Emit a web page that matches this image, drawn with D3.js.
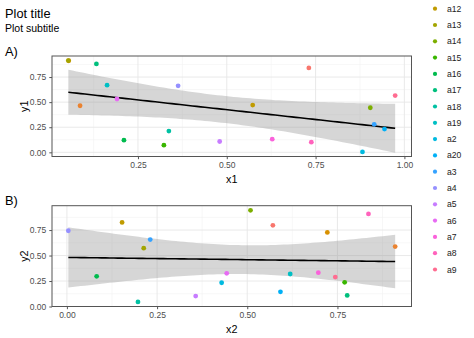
<!DOCTYPE html>
<html><head><meta charset="utf-8">
<script src="https://cdn.jsdelivr.net/npm/d3@7"></script>
<style>body{margin:0;background:#fff}svg{display:block;font-family:"Liberation Sans",Arial,sans-serif}</style>
</head><body><svg id="c" width="474" height="338"></svg>
<script>
// ---- data ----
const ids = ["a1","a2","a3","a4","a5","a6","a7","a8","a9","a10","a11","a12","a13","a14","a15","a16","a17","a18","a19","a20"];
const x1 = [0.731,0.882,0.915,0.363,0.480,0.191,0.628,0.738,0.974,0.087,0.055,0.573,0.054,0.904,0.323,0.2105,0.133,0.337,0.163,0.944];
const y1 = [0.841,0.004,0.279,0.662,0.108,0.531,0.131,0.101,0.565,0.464,0.912,0.471,0.914,0.444,0.071,0.121,0.881,0.212,0.669,0.232];
const x2 = [0.571,0.429,0.231,0.004,0.357,0.443,0.697,0.836,0.744,0.910,0.722,0.153,0.213,0.509,0.770,0.0825,0.777,0.197,0.619,0.592];
const y2 = [0.796,0.233,0.657,0.743,0.102,0.326,0.332,0.908,0.289,0.588,0.727,0.825,0.572,0.944,0.237,0.296,0.109,0.045,0.319,0.144];
const xTicks1 = [0.25,0.50,0.75,1.00];
const xTicks2 = [0.00,0.25,0.50,0.75];
const yTicks = [0.00,0.25,0.50,0.75];
const titleText = "Plot title", subtitleText = "Plot subtitle";
const palette = ["#F8766D","#EA8331","#D89000","#C09B00","#A3A500","#7CAE00","#39B600","#00BB4E","#00BF7D","#00C1A3","#00BFC4","#00BAE0","#00B0F6","#35A2FF","#9590FF","#C77CFF","#E76BF3","#FA62DB","#FF62BC","#FF6C91"];
const T_CRIT = 2.100922; // 95% t quantile, df = 18

const svg = d3.select("#c");
const levels = ids.slice().sort(); // a1,a10,a11,...
const hue = d3.scaleOrdinal().domain(levels).range(palette);

svg.append("text").attr("x",5).attr("y",18).attr("font-size",12.8).attr("fill","#000").text(titleText);
svg.append("text").attr("x",5).attr("y",32).attr("font-size",10.5).attr("fill","#000").text(subtitleText);

function expand(arr){const [a,b]=d3.extent(arr);const r=b-a;return [a-0.05*r,b+0.05*r];}

function panel(opts){
  const {xs,ys,top,bottom,left,right,xTicks,tag,xLab,yLab,tagY} = opts;
  const g = svg.append("g");
  const x = d3.scaleLinear().domain(expand(xs)).range([left,right]);
  const y = d3.scaleLinear().domain(expand(ys)).range([bottom,top]);
  const xd=x.domain(), yd=y.domain();
  const minor = (ticks,dom)=>{const out=[];const s=ticks[1]-ticks[0];for(let v=ticks[0]-s/2;v<=dom[1];v+=s){if(v>=dom[0])out.push(v);}return out;};
  g.selectAll(".mx").data(minor(xTicks,xd)).join("line").attr("x1",d=>x(d)).attr("x2",d=>x(d)).attr("y1",top).attr("y2",bottom).attr("stroke","#f2f2f2").attr("stroke-width",0.6);
  g.selectAll(".my").data(minor(yTicks,yd)).join("line").attr("y1",d=>y(d)).attr("y2",d=>y(d)).attr("x1",left).attr("x2",right).attr("stroke","#f2f2f2").attr("stroke-width",0.6);
  g.selectAll(".gx").data(xTicks).join("line").attr("x1",d=>x(d)).attr("x2",d=>x(d)).attr("y1",top).attr("y2",bottom).attr("stroke","#e6e6e6").attr("stroke-width",0.9);
  g.selectAll(".gy").data(yTicks).join("line").attr("y1",d=>y(d)).attr("y2",d=>y(d)).attr("x1",left).attr("x2",right).attr("stroke","#e6e6e6").attr("stroke-width",0.9);
  // regression with 95% CI
  const n=xs.length, mx=d3.mean(xs), my=d3.mean(ys);
  let sxx=0,sxy=0; for(let i=0;i<n;i++){sxx+=(xs[i]-mx)**2;sxy+=(xs[i]-mx)*(ys[i]-my);}
  const b=sxy/sxx, a=my-b*mx;
  let sse=0; for(let i=0;i<n;i++){sse+=(ys[i]-a-b*xs[i])**2;}
  const s=Math.sqrt(sse/(n-2));
  const [xmin,xmax]=d3.extent(xs);
  const grid=d3.range(80).map(i=>xmin+(xmax-xmin)*i/79);
  const fit=grid.map(v=>{const f=a+b*v;const se=s*Math.sqrt(1/n+(v-mx)**2/sxx);return {x:v,f,lo:f-T_CRIT*se,hi:f+T_CRIT*se};});
  g.append("path").datum(fit).attr("d",d3.area().x(d=>x(d.x)).y0(d=>y(d.lo)).y1(d=>y(d.hi))).attr("fill","#999").attr("fill-opacity",0.4);
  g.append("path").datum(fit).attr("d",d3.line().x(d=>x(d.x)).y(d=>y(d.f))).attr("fill","none").attr("stroke","#000").attr("stroke-width",1.6);
  g.selectAll("circle").data(ids.map((id,i)=>({id,x:xs[i],y:ys[i]}))).join("circle")
    .attr("cx",d=>x(d.x)).attr("cy",d=>y(d.y)).attr("r",2.4).attr("fill",d=>hue(d.id));
  g.append("rect").attr("x",left).attr("y",top).attr("width",right-left).attr("height",bottom-top).attr("fill","none").attr("stroke","#555").attr("stroke-width",1);
  const ax=g.append("g").attr("transform",`translate(0,${bottom})`).call(d3.axisBottom(x).tickValues(xTicks).tickFormat(d3.format(".2f")).tickSize(2.7).tickPadding(3));
  const ay=g.append("g").attr("transform",`translate(${left},0)`).call(d3.axisLeft(y).tickValues(yTicks).tickFormat(d3.format(".2f")).tickSize(2.7).tickPadding(3));
  [ax,ay].forEach(a=>{a.select(".domain").remove();a.selectAll("line").attr("stroke","#555");a.selectAll("text").attr("fill","#4d4d4d").attr("font-size",8.5).attr("font-family","Liberation Sans, Arial, sans-serif");});
  svg.append("text").attr("x",(left+right)/2).attr("y",bottom+26).attr("text-anchor","middle").attr("font-size",10.8).text(xLab);
  svg.append("text").attr("transform",`translate(28,${(top+bottom)/2}) rotate(-90)`).attr("text-anchor","middle").attr("font-size",10.8).text(yLab);
  svg.append("text").attr("x",5).attr("y",tagY).attr("font-size",12.8).text(tag);
}

panel({xs:x1,ys:y1,top:56,bottom:156.5,left:52,right:411.5,xTicks:xTicks1,tag:"A)",xLab:"x1",yLab:"y1",tagY:56});
panel({xs:x2,ys:y2,top:205.7,bottom:306.5,left:52,right:411.5,xTicks:xTicks2,tag:"B)",xLab:"x2",yLab:"y2",tagY:205});

// legend (the first keys fall above the visible page, as in the reference)
const lg=svg.append("g");
const ly=d3.scaleLinear().domain([3,19]).range([8.7,269.5]);
levels.forEach((id,i)=>{
  if (ly(i) < 4) return;
  lg.append("circle").attr("cx",435).attr("cy",ly(i)).attr("r",2.1).attr("fill",hue(id));
  lg.append("text").attr("x",447).attr("y",ly(i)).attr("dy","0.35em").attr("font-size",8.6).attr("fill","#222").text(id);
});
</script></body></html>
